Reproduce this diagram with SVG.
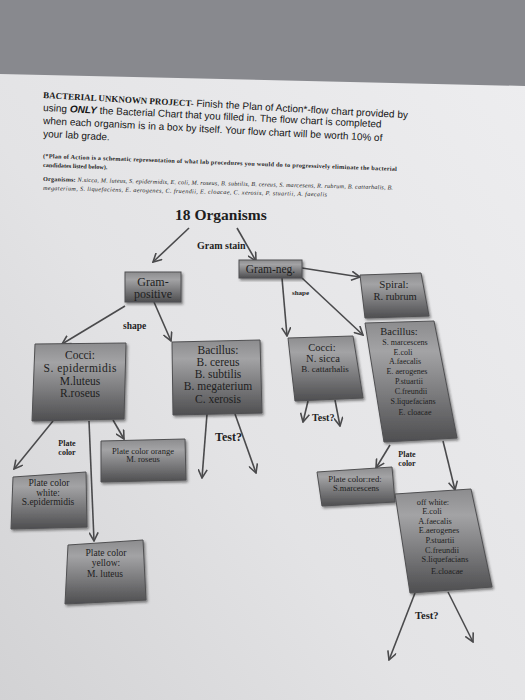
<svg xmlns="http://www.w3.org/2000/svg" width="525" height="700" viewBox="0 0 525 700">
<defs>
<linearGradient id="paper" x1="1" y1="0" x2="0" y2="1">
<stop offset="0" stop-color="#eeeef0"/>
<stop offset="0.6" stop-color="#e3e3e5"/>
<stop offset="1" stop-color="#d2d2d4"/>
</linearGradient>
<linearGradient id="box" x1="0" y1="0" x2="0" y2="1">
<stop offset="0" stop-color="#8c8c8e"/>
<stop offset="0.25" stop-color="#a3a3a5"/>
<stop offset="1" stop-color="#4e4e50"/>
</linearGradient>
<filter id="sh" x="-10%" y="-10%" width="130%" height="130%">
<feDropShadow dx="1.5" dy="2" stdDeviation="1.2" flood-color="#222" flood-opacity="0.5"/>
</filter>
<marker id="ah" viewBox="0 0 10 10" refX="9" refY="5" markerWidth="10" markerHeight="10" markerUnits="userSpaceOnUse" orient="auto">
<path d="M0.5,0.5 L9,5 L0.5,9.5" fill="none" stroke="#4a4a4c" stroke-width="1.6"/>
</marker>
<style>
.b{fill:url(#box);stroke:#505052;stroke-width:1;filter:url(#sh)}
.t{font-family:"Liberation Serif",serif;fill:#1e1e1e;text-anchor:middle}
.l{font-family:"Liberation Serif",serif;fill:#1e1e1e;font-weight:bold}
.h{font-family:"Liberation Sans",Arial,sans-serif;fill:#161616;font-size:10px}
.n{font-family:"Liberation Serif",serif;fill:#1e1e1e;font-size:6.2px}
.c line{stroke:#4a4a4c;stroke-width:1.6;marker-end:url(#ah)}
</style>
</defs>
<rect x="0" y="0" width="525" height="700" fill="url(#paper)"/>
<path d="M0,0 H525 V86 L0,74 Z" fill="#88898e"/>

<g id="header">
<text x="43" y="98" transform="rotate(3.2 43 98)"><tspan font-family="Liberation Serif,serif" font-weight="bold" font-size="9" fill="#161616">BACTERIAL UNKNOWN PROJECT-</tspan><tspan class="h" font-size="9.5"> Finish the Plan of Action*-flow chart provided by</tspan></text>
<text class="h" x="43" y="111" transform="rotate(2.8 43 111)">using <tspan font-weight="bold" font-style="italic">ONLY</tspan> the Bacterial Chart that you filled in. The flow chart is completed</text>
<text class="h" x="43" y="124" transform="rotate(2.9 43 124)">when each organism is in a box by itself. Your flow chart will be worth 10% of</text>
<text class="h" x="43" y="137" transform="rotate(2.9 43 137)">your lab grade.</text>
<text class="n" font-weight="bold" x="43" y="158" textLength="354" transform="rotate(2.1 43 158)">(*Plan of Action is a schematic representation of what lab procedures you would do to progressively eliminate the bacterial</text>
<text class="n" font-weight="bold" x="43" y="167" transform="rotate(2 43 167)">candidates listed below).</text>
<text class="n" x="43" y="181" textLength="350" transform="rotate(1.4 43 181)"><tspan font-weight="bold">Organisms: </tspan><tspan font-style="italic">N.sicca, M. luteus, S. epidermidis, E. coli, M. roseus, B. subtilis, B. cereus, S. marcesens, R. rubrum, B. cattarhalis, B.</tspan></text>
<text class="n" font-style="italic" x="43" y="190" textLength="284" transform="rotate(1.3 43 190)">megaterium, S. liquefaciens, E. aerogenes, C. fruendii, E. cloacae, C. xerosis, P. stuartii, A. faecalis</text>
</g>

<g id="title"><text class="l" x="175" y="220" font-size="15.5">18 Organisms</text></g>

<g class="c" id="connectors">
<line x1="189" y1="228" x2="153" y2="262"/>
<line x1="237" y1="228" x2="256" y2="261"/>
<line x1="302" y1="268" x2="360" y2="277"/>
<line x1="282" y1="278" x2="287" y2="336"/>
<line x1="302" y1="278" x2="363" y2="335"/>
<line x1="125" y1="306" x2="62" y2="344"/>
<line x1="154" y1="302" x2="171" y2="341"/>
<line x1="53" y1="421" x2="14" y2="469"/>
<line x1="89" y1="421" x2="94" y2="541"/>
<line x1="113" y1="420" x2="124" y2="439"/>
<line x1="207" y1="414" x2="202" y2="478"/>
<line x1="235" y1="414" x2="256" y2="473"/>
<line x1="308" y1="401" x2="303" y2="422"/>
<line x1="335" y1="400" x2="340" y2="426"/>
<line x1="390" y1="445" x2="376" y2="468"/>
<line x1="443" y1="441" x2="455" y2="490"/>
<line x1="415" y1="593" x2="389" y2="660"/>
<line x1="448" y1="592" x2="473" y2="642"/>
</g>

<g id="labels">
<text class="l" x="197" y="249" font-size="10">Gram stain</text>
<text class="l" x="292" y="295" font-size="7">shape</text>
<text class="l" x="123" y="329" font-size="9.5">shape</text>
<text class="l" x="67" y="446" font-size="8" text-anchor="middle">Plate</text>
<text class="l" x="67" y="455" font-size="8" text-anchor="middle">color</text>
<text class="l" x="407" y="457" font-size="8" text-anchor="middle">Plate</text>
<text class="l" x="407" y="466" font-size="8" text-anchor="middle">color</text>
<text class="l" x="215" y="441" font-size="12">Test?</text>
<text class="l" x="312" y="421" font-size="10">Test?</text>
<text class="l" x="415" y="619" font-size="10.5">Test?</text>
</g>

<g id="gram-neg">
<rect class="b" x="239" y="260" width="63" height="18"/>
<text class="t" x="270.5" y="273" font-size="11.5">Gram-neg.</text>
</g>

<g id="gram-positive">
<rect class="b" x="125" y="272" width="56" height="30"/>
<text class="t" x="153" y="285.5" font-size="12">Gram-</text>
<text class="t" x="153" y="298" font-size="12">positive</text>
</g>

<g id="spiral">
<polygon class="b" points="360,275 421,273 429,316 365,318"/>
<text class="t" x="394" y="288" font-size="11">Spiral:</text>
<text class="t" x="395" y="300" font-size="10.5">R. rubrum</text>
</g>

<g id="cocci-gram-pos">
<polygon class="b" points="35,344 126,343 124,419 32,421"/>
<text class="t" x="80" y="359" font-size="11.5">Cocci:</text>
<text class="t" x="80" y="371.5" font-size="11.5" textLength="73">S. epidermidis</text>
<text class="t" x="80" y="384.5" font-size="11.5">M.luteus</text>
<text class="t" x="80" y="397" font-size="11.5">R.roseus</text>
</g>

<g id="bacillus-gram-pos">
<polygon class="b" points="172,342 260,340 262,413 173,415"/>
<text class="t" x="218" y="354" font-size="11.5">Bacillus:</text>
<text class="t" x="218" y="366" font-size="11.5">B. cereus</text>
<text class="t" x="218" y="378" font-size="11.5">B. subtilis</text>
<text class="t" x="218" y="390" font-size="11.5">B. megaterium</text>
<text class="t" x="218" y="402.5" font-size="11.5">C. xerosis</text>
</g>

<g id="cocci-gram-neg">
<polygon class="b" points="288,338 353,336 363,398 295,401"/>
<text class="t" x="322" y="350.5" font-size="10.5">Cocci:</text>
<text class="t" x="323" y="362" font-size="10.5">N. sicca</text>
<text class="t" x="325" y="372" font-size="9">B. cattarhalis</text>
</g>

<g id="bacillus-gram-neg">
<polygon class="b" points="365,323 434,321 457,438 384,442"/>
<text class="t" x="399" y="335" font-size="10.5">Bacillus:</text>
<text class="t" x="405" y="345" font-size="8">S. marcescens</text>
<text class="t" x="403" y="354.5" font-size="8">E.coli</text>
<text class="t" x="405" y="364" font-size="8">A.faecalis</text>
<text class="t" x="407" y="373.5" font-size="8">E. aerogenes</text>
<text class="t" x="409" y="384" font-size="8">P.stuartii</text>
<text class="t" x="411" y="394" font-size="8">C.freundii</text>
<text class="t" x="413" y="404" font-size="8">S.liquefacians</text>
<text class="t" x="415" y="415" font-size="8">E. cloacae</text>
</g>

<g id="plate-red">
<polygon class="b" points="317,472 392,467 395,502 322,506"/>
<text class="t" x="355" y="482" font-size="8.7">Plate color:red:</text>
<text class="t" x="356" y="490.5" font-size="8.5">S.marcescens</text>
</g>

<g id="off-white">
<polygon class="b" points="395,494 471,489 492,587 410,593"/>
<text class="t" x="433" y="505" font-size="8.3">off white:</text>
<text class="t" x="432" y="514" font-size="8.3">E.coli</text>
<text class="t" x="435" y="523.5" font-size="8.3">A.faecalis</text>
<text class="t" x="439" y="532.5" font-size="8.3">E.aerogenes</text>
<text class="t" x="440" y="543" font-size="8.3">P.stuartii</text>
<text class="t" x="442" y="553" font-size="8.3">C.freundii</text>
<text class="t" x="445" y="562" font-size="8.3">S.liquefacians</text>
<text class="t" x="447" y="573.5" font-size="8.3">E.cloacae</text>
</g>

<g id="plate-orange">
<polygon class="b" points="101,441 185,439 186,480 101,482"/>
<text class="t" x="143" y="453.5" font-size="8.5">Plate color orange</text>
<text class="t" x="143" y="462" font-size="8.5">M. roseus</text>
</g>

<g id="plate-white">
<polygon class="b" points="13,477 86,472 87,527 11,529"/>
<text class="t" x="49" y="486" font-size="9.5">Plate color</text>
<text class="t" x="48" y="496" font-size="9.5">white:</text>
<text class="t" x="48" y="505" font-size="9.5">S.epidermidis</text>
</g>

<g id="plate-yellow">
<polygon class="b" points="68,545 143,540 146,600 65,604"/>
<text class="t" x="106" y="556" font-size="9.5">Plate color</text>
<text class="t" x="106" y="566" font-size="9.5">yellow:</text>
<text class="t" x="105" y="577" font-size="9.5">M. luteus</text>
</g>
</svg>
